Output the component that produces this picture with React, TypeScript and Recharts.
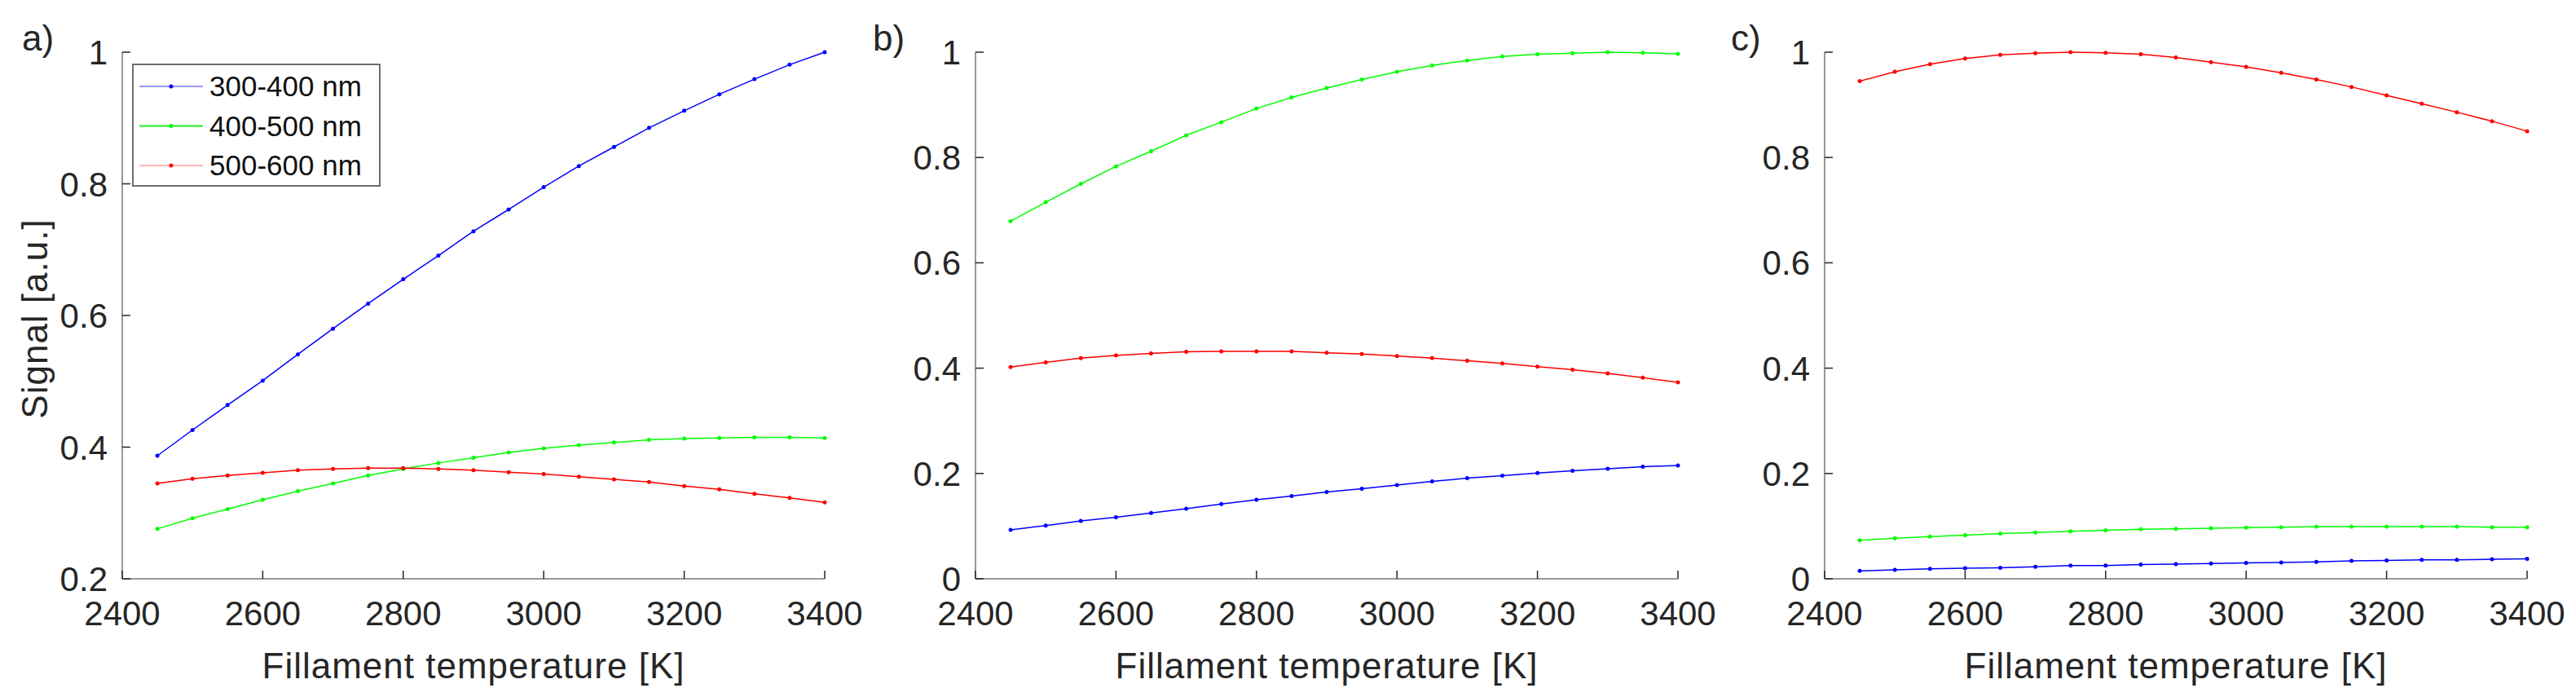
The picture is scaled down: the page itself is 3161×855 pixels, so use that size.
import { Label, Legend, Line, LineChart, XAxis, YAxis } from 'recharts';

const FONT = '"Liberation Sans", Arial, sans-serif';
const INK = '#262626';

// filament temperature [K]
const temps = [
  2450, 2500, 2550, 2600, 2650, 2700, 2750, 2800, 2850, 2900,
  2950, 3000, 3050, 3100, 3150, 3200, 3250, 3300, 3350, 3400,
];
const xTicks = [2400, 2600, 2800, 3000, 3200, 3400];
const yTicksA = [0.2, 0.4, 0.6, 0.8, 1];
const yTicksBC = [0, 0.2, 0.4, 0.6, 0.8, 1];

const seriesNames = ['300-400 nm', '400-500 nm', '500-600 nm'];

// a) normalised to the 300-400 nm band
const aBlue = [
  0.387, 0.426, 0.464, 0.501, 0.541, 0.58, 0.618, 0.655, 0.691, 0.728,
  0.761, 0.795, 0.827, 0.856, 0.885, 0.911, 0.936, 0.959, 0.981, 1.0,
];
const aGreen = [
  0.276, 0.292, 0.306, 0.32, 0.333, 0.345, 0.357, 0.367, 0.376, 0.384,
  0.392, 0.398, 0.403, 0.407, 0.411, 0.413, 0.414, 0.415, 0.415, 0.414,
];
const aRed = [
  0.345, 0.352, 0.357, 0.361, 0.365, 0.367, 0.368, 0.368, 0.367, 0.365,
  0.362, 0.359, 0.355, 0.351, 0.347, 0.341, 0.336, 0.329, 0.323, 0.316,
];

// b) normalised to the 400-500 nm band
const bBlue = [
  0.093, 0.101, 0.11, 0.117, 0.125, 0.133, 0.142, 0.15, 0.157, 0.165,
  0.171, 0.178, 0.185, 0.191, 0.196, 0.201, 0.205, 0.209, 0.213, 0.215,
];
const bGreen = [
  0.679, 0.715, 0.75, 0.783, 0.812, 0.842, 0.867, 0.893, 0.914, 0.932,
  0.948, 0.963, 0.975, 0.984, 0.992, 0.996, 0.998, 1.0, 0.999, 0.997,
];
const bRed = [
  0.402, 0.411, 0.419, 0.424, 0.428, 0.431, 0.432, 0.432, 0.432, 0.429,
  0.427, 0.423, 0.419, 0.414, 0.409, 0.403, 0.397, 0.39, 0.382, 0.373,
];

// c) normalised to the 500-600 nm band
const cBlue = [
  0.015, 0.017, 0.019, 0.02, 0.021, 0.023, 0.025, 0.025, 0.027, 0.028,
  0.029, 0.03, 0.031, 0.032, 0.034, 0.035, 0.036, 0.036, 0.037, 0.038,
];
const cGreen = [
  0.073, 0.077, 0.08, 0.083, 0.086, 0.088, 0.09, 0.092, 0.094, 0.095,
  0.096, 0.097, 0.098, 0.099, 0.099, 0.099, 0.099, 0.099, 0.098, 0.098,
];
const cRed = [
  0.945, 0.963, 0.977, 0.988, 0.995, 0.998, 1.0, 0.999, 0.996, 0.99,
  0.981, 0.972, 0.961, 0.948, 0.934, 0.918, 0.902, 0.886, 0.869, 0.85,
];

const COLORS = { blue: '#0000ff', green: '#00ff00', red: '#ff0000' };
const LEGEND_TINT: Record<string, string> = { blue: '#9a9aff', green: '#22ee22', red: '#ffb4b4' };

const PLOT_W = 862;
const Y_AXIS_W = 150;
const RIGHT_PAD = 70;
const CHART_W = Y_AXIS_W + PLOT_W + RIGHT_PAD;
const CHART_H = 855;

const panels = [
  { letter: 'a)', left: 0, letterX: 27, blue: aBlue, green: aGreen, red: aRed, domain: [0.2, 1], ticks: yTicksA, legend: true, yLabel: true },
  { letter: 'b)', left: 1047, letterX: 24, blue: bBlue, green: bGreen, red: bRed, domain: [0, 1], ticks: yTicksBC, legend: false, yLabel: false },
  { letter: 'c)', left: 2089, letterX: 35, blue: cBlue, green: cGreen, red: cRed, domain: [0, 1], ticks: yTicksBC, legend: false, yLabel: false },
];

const BottomTick = ({ x, y, payload }: any) => (
  <g>
    <line x1={x} y1={y} x2={x} y2={y - 10} stroke={INK} strokeWidth={1.5} />
    <text x={x} y={y + 57} textAnchor="middle" fontSize={42} fill={INK} fontFamily={FONT}>
      {payload.value}
    </text>
  </g>
);

const TopTick = ({ x, y }: any) => <line x1={x} y1={y} x2={x} y2={y + 10} stroke={INK} strokeWidth={1.5} />;

const LeftTick = ({ x, y, payload }: any) => (
  <g>
    <line x1={x} y1={y} x2={x + 10} y2={y} stroke={INK} strokeWidth={1.5} />
    <text x={x - 18} y={y + 15} textAnchor="end" fontSize={42} fill={INK} fontFamily={FONT}>
      {payload.value}
    </text>
  </g>
);

const RightTick = ({ x, y }: any) => <line x1={x} y1={y} x2={x - 10} y2={y} stroke={INK} strokeWidth={1.5} />;

const xLabel = ({ viewBox }: any) => (
  <text
    x={viewBox.x + viewBox.width / 2}
    y={viewBox.y + 122}
    textAnchor="middle"
    fontSize={44}
    letterSpacing={1}
    fill={INK}
    fontFamily={FONT}
  >
    Fillament temperature [K]
  </text>
);

const makeYLabel = (letter: string, letterX: number, withTitle: boolean) => ({ viewBox }: any) => {
  const cy = viewBox.y + viewBox.height / 2 + 4;
  return (
    <g>
      <text x={viewBox.x + letterX} y={62} fontSize={44} fill={INK} fontFamily={FONT}>
        {letter}
      </text>
      {withTitle && (
        <text
          x={58}
          y={cy}
          transform={`rotate(-90 58 ${cy})`}
          textAnchor="middle"
          fontSize={44}
          letterSpacing={1}
          fill={INK}
          fontFamily={FONT}
        >
          Signal [a.u.]
        </text>
      )}
    </g>
  );
};

const legendKeys = ['blue', 'green', 'red'];

const LegendBox = ({ payload }: any) => (
  <div style={{ width: 305, height: 151, border: '2px solid #6e6e6e', boxSizing: 'border-box', background: '#fff' }}>
    <svg width={301} height={147}>
      {(payload || []).map((entry: any, i: number) => {
        const cy = 26 + i * 48.5;
        const key = legendKeys[i];
        return (
          <g key={entry.value}>
            <line x1={7} y1={cy} x2={85} y2={cy} stroke={LEGEND_TINT[key]} strokeWidth={2} />
            <circle cx={46} cy={cy} r={2.5} fill={entry.color} />
            <text x={93} y={cy + 12} fontSize={35} fill="#111" fontFamily={FONT}>
              {entry.value}
            </text>
          </g>
        );
      })}
    </svg>
  </div>
);

function Panel({ p }: { p: (typeof panels)[number] }) {
  const rows = temps.map((t, i) => ({ t, blue: p.blue[i], green: p.green[i], red: p.red[i] }));
  return (
    <div style={{ position: 'absolute', left: p.left, top: 0 }}>
      <LineChart width={CHART_W} height={CHART_H} data={rows} margin={{ top: 64, right: RIGHT_PAD, bottom: 0, left: 0 }}>
        <XAxis
          dataKey="t"
          type="number"
          domain={[2400, 3400]}
          ticks={xTicks}
          interval={0}
          height={145}
          tickSize={0}
          tickMargin={0}
          tickLine={false}
          axisLine={{ stroke: '#999', strokeWidth: 2 }}
          tick={BottomTick}
          label={<Label content={xLabel} />}
        />
        <XAxis
          xAxisId="top"
          orientation="top"
          dataKey="t"
          type="number"
          domain={[2400, 3400]}
          ticks={xTicks}
          interval={0}
          height={0}
          tickSize={0}
          tickMargin={0}
          tickLine={false}
          axisLine={{ stroke: '#555', strokeWidth: 2 }}
          tick={TopTick}
        />
        <YAxis
          type="number"
          domain={p.domain}
          ticks={p.ticks}
          interval={0}
          width={Y_AXIS_W}
          tickSize={0}
          tickMargin={0}
          tickLine={false}
          axisLine={{ stroke: '#999', strokeWidth: 2 }}
          tick={LeftTick}
          label={<Label content={makeYLabel(p.letter, p.letterX, p.yLabel)} />}
        />
        <YAxis
          yAxisId="r"
          orientation="right"
          type="number"
          domain={p.domain}
          ticks={p.ticks}
          interval={0}
          width={0}
          tickSize={0}
          tickMargin={0}
          tickLine={false}
          axisLine={{ stroke: '#888', strokeWidth: 2 }}
          tick={RightTick}
        />
        {p.legend && (
          <Legend
            layout="vertical"
            align="center"
            verticalAlign="middle"
            content={LegendBox}
            wrapperStyle={{ left: 162, top: 78, width: 305, height: 151 }}
          />
        )}
        <Line dataKey="blue" name={seriesNames[0]} stroke={COLORS.blue} strokeWidth={1.5}
          dot={{ r: 2.5, fill: COLORS.blue, strokeWidth: 0 }} isAnimationActive={false} />
        <Line dataKey="green" name={seriesNames[1]} stroke={COLORS.green} strokeWidth={1.5}
          dot={{ r: 2.5, fill: COLORS.green, strokeWidth: 0 }} isAnimationActive={false} />
        <Line dataKey="red" name={seriesNames[2]} stroke={COLORS.red} strokeWidth={1.5}
          dot={{ r: 2.5, fill: COLORS.red, strokeWidth: 0 }} isAnimationActive={false} />
      </LineChart>
    </div>
  );
}

export default function App() {
  return (
    <div style={{ position: 'absolute', left: 0, top: 0, width: 3161, height: 855, background: '#fff', fontFamily: FONT }}>
      {panels.map((p) => (
        <Panel key={p.letter} p={p} />
      ))}
    </div>
  );
}
